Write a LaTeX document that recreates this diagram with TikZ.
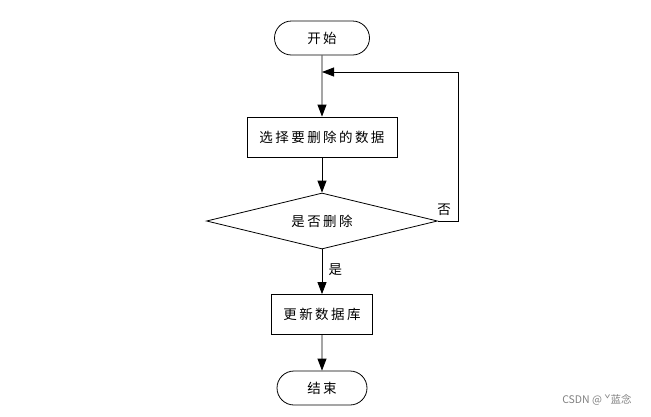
\documentclass[tikz,border=0pt]{standalone}
\usepackage{fontspec}
\setmainfont{Noto Sans CJK SC}
\newfontfamily\cjksp[LetterSpace=18]{Noto Sans CJK SC}
\usetikzlibrary{shapes.geometric,shapes.misc,arrows.meta}
\begin{document}
\begin{tikzpicture}[x=1pt,y=-1pt,
  every node/.style={font=\cjksp\fontsize{13.5}{15}\selectfont},
  term/.style={draw,line width=0.8pt,rounded rectangle,minimum width=#1,minimum height=34pt,inner sep=0pt},
  proc/.style={draw,line width=0.8pt,rectangle,minimum width=#1,minimum height=40pt,inner sep=0pt},
  conn/.style={line width=0.8pt,-{Triangle[length=12pt,width=9pt]}},
  lab/.style={font=\fontsize{13.5}{15}\selectfont}]
\useasboundingbox (0,0) rectangle (651,416);
\node[term=95pt] (start) at (322,38) {开始};
\node[proc=150pt] (sel) at (322,137) {选择要删除的数据};
\node[draw,line width=0.8pt,shape=diamond,inner sep=0pt,minimum width=231pt,minimum height=56pt] (dec) at (322,221) {};
\node (dectext) at (322,221) {是否删除};
\node[proc=101pt] (upd) at (322,314.5) {更新数据库};
\node[term=90pt] (end) at (322,388) {结束};
\coordinate (loopA) at (458,221);
\coordinate (loopB) at (458,72);
\coordinate (merge) at (322,72);
\draw[conn] (start) -- (sel);
\draw[conn] (sel) -- (dec);
\draw[conn] (dec) -- node[lab,right,pos=0.45,xshift=3pt] {是} (upd);
\draw[conn] (upd) -- (end);
\draw[conn] (dec.east) -- (loopA) -- (loopB) -- (merge);
\node[lab] (no) at (444,210) {否};
\node[font=\fontsize{10.5}{12}\selectfont,text=gray] (wm) at (597,400) {CSDN @ ˇ蓝念};
\end{tikzpicture}
\end{document}
